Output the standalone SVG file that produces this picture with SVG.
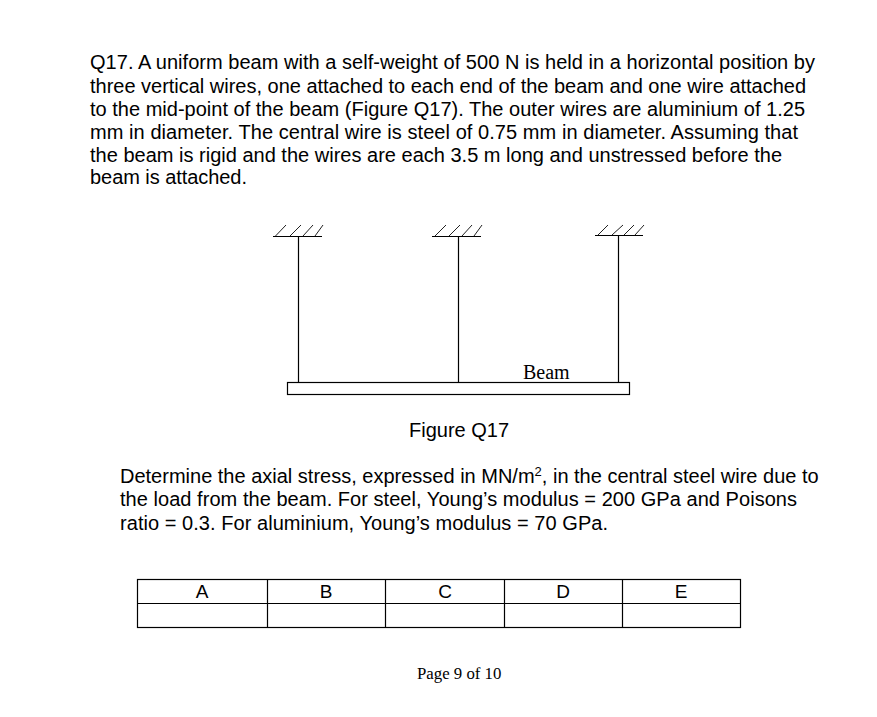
<svg xmlns="http://www.w3.org/2000/svg" width="877" height="717" viewBox="0 0 877 717">
<style>
text{font-family:"Liberation Sans",Arial,sans-serif;font-size:20px;fill:#000}
.s{font-family:"Liberation Serif","Times New Roman",serif}
.l{stroke:#000;stroke-width:1.2;fill:none}
.h{stroke:#222;stroke-width:1;fill:none}
.c{font-size:19px;text-anchor:middle}
</style>
<rect width="877" height="717" fill="#fff"/>
<g id="question">
<text x="90" y="69" textLength="725" lengthAdjust="spacing">Q17. A uniform beam with a self-weight of 500 N is held in a horizontal position by</text>
<text x="90" y="93" textLength="716" lengthAdjust="spacing">three vertical wires, one attached to each end of the beam and one wire attached</text>
<text x="90" y="116" textLength="715" lengthAdjust="spacing">to the mid-point of the beam (Figure Q17). The outer wires are aluminium of 1.25</text>
<text x="90" y="139" textLength="708" lengthAdjust="spacing">mm in diameter. The central wire is steel of 0.75 mm in diameter. Assuming that</text>
<text x="90" y="162" textLength="692" lengthAdjust="spacing">the beam is rigid and the wires are each 3.5 m long and unstressed before the</text>
<text x="90" y="184" textLength="157" lengthAdjust="spacing">beam is attached.</text>
</g>
<g id="figure">
<path class="l" d="M273 236.500H322M432 236.500H481M595 235.500H643"/>
<path class="h" d="M275.500 236L286 225M290 236L301 225M303 236L313 225M315 236L323 225M435 236L446 225M449 236L460 225M462 236L472 225M474 236L482 225M598 235L608 225M612 235L623 225M624 235L634 225M635 235L644 225"/>
<path class="l" d="M298.500 237V382M458.500 237V382M618.500 236V382"/>
<rect class="l" x="287.500" y="382.500" width="342" height="12"/>
<text class="s" x="523" y="379" style="font-size:20px">Beam</text>
</g>
<text id="caption" x="409" y="437">Figure Q17</text>
<g id="prompt">
<text x="120" y="483">Determine the axial stress, expressed in MN/m<tspan dy="-7" style="font-size:13px">2</tspan><tspan dy="7">, in the central steel wire due to</tspan></text>
<text x="120" y="506" textLength="677" lengthAdjust="spacing">the load from the beam. For steel, Young’s modulus = 200 GPa and Poisons</text>
<text x="120" y="530" textLength="488" lengthAdjust="spacing">ratio = 0.3. For aluminium, Young’s modulus = 70 GPa.</text>
</g>
<g id="table">
<rect class="l" x="137.500" y="579.500" width="603" height="48"/>
<path class="l" d="M137.500 603.500H740.500M267.500 579V628M385.500 579V628M504.500 579V628M622.500 579V628"/>
<text class="c" x="202" y="598">A</text>
<text class="c" x="326" y="598">B</text>
<text class="c" x="445" y="598">C</text>
<text class="c" x="563" y="598">D</text>
<text class="c" x="681" y="598">E</text>
</g>
<text id="page" class="s" x="417" y="679" style="font-size:16.800px;font-family:'Liberation Serif',serif">Page 9 of 10</text>
</svg>
